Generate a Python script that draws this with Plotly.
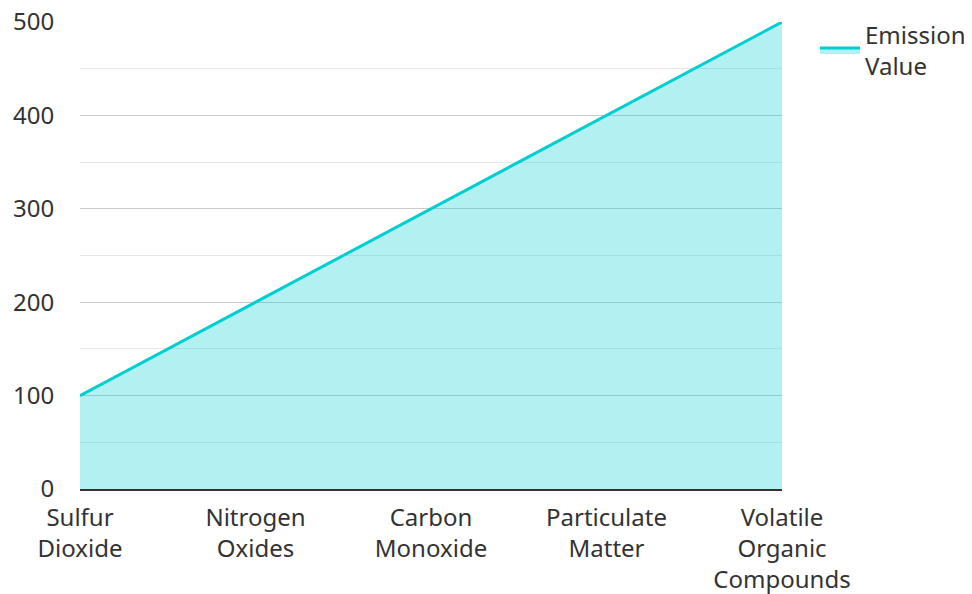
import plotly.graph_objects as go

categories = ["Sulfur<br>Dioxide", "Nitrogen<br>Oxides", "Carbon<br>Monoxide",
              "Particulate<br>Matter", "Volatile<br>Organic<br>Compounds"]
values = [100, 200, 300, 400, 500]
series_name = "Emission<br>Value"
y_ticks = [0, 100, 200, 300, 400, 500]

fig = go.Figure()
fig.add_trace(go.Scatter(
    x=categories, y=values, mode="lines", name=series_name,
    line=dict(color="#00CED1", width=3),
    fill="tozeroy", fillcolor="rgba(0,206,209,0.3)",
))

font = dict(family="Noto Sans", size=24, color="#333333")
fig.update_layout(
    width=964, height=586,
    margin=dict(l=72, r=190, t=14, b=105, autoexpand=False),
    paper_bgcolor="white", plot_bgcolor="white",
    font=font,
    showlegend=True,
    legend=dict(x=1.047, y=1.021, xanchor="left", yanchor="top", font=font,
                bgcolor="rgba(0,0,0,0)", itemwidth=40),
    xaxis=dict(showgrid=False, showline=True, linecolor="#333333", linewidth=2,
               ticks="outside", ticklen=6, tickcolor="rgba(0,0,0,0)",
               tickfont=font, range=[0, 4], zeroline=False, automargin=False,
               ticklabeloverflow="allow"),
    yaxis=dict(range=[0, 500], tickvals=y_ticks, showgrid=True, gridcolor="#cccccc",
               gridwidth=1, zeroline=False, showline=False,
               ticks="outside", ticklen=20, tickcolor="rgba(0,0,0,0)",
               tickfont=font, automargin=False, ticklabeloverflow="allow",
               minor=dict(dtick=50, showgrid=True, gridcolor="#e8e8e8", gridwidth=1,
                          ticks="")),
)
fig.write_html("out.html")
